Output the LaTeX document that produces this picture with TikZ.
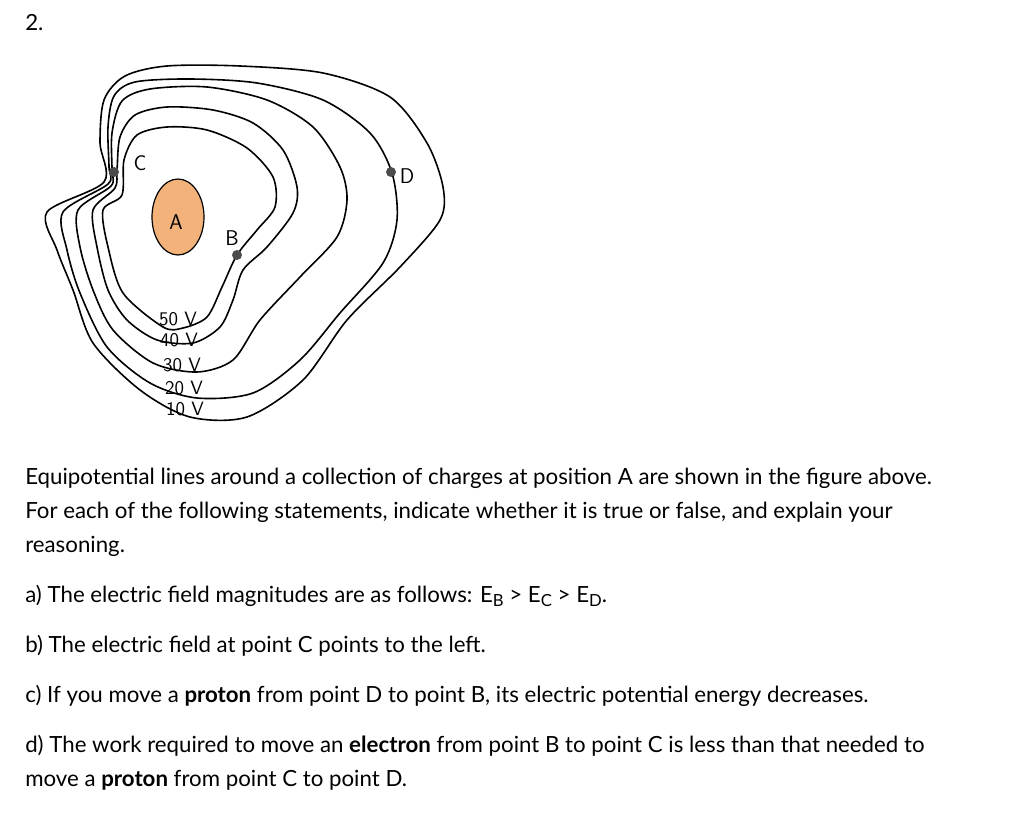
\documentclass[tikz,border=0pt]{standalone}
\usepackage{fontspec}
\setmainfont{Lato}
\begin{document}
\begin{tikzpicture}[x=0.75pt,y=-0.75pt,
  eq/.style={line width=1.2pt,line join=round},
  lbl/.style={font=\fontsize{14.5}{14}\selectfont\sffamily,inner sep=0pt},
  ltr/.style={font=\fontsize{16}{16}\selectfont\sffamily,inner sep=0pt},
  pt/.style={circle,fill=black!70,inner sep=0pt,minimum size=7.5pt},
  txt/.style={anchor=base west,inner sep=0pt,font=\fontsize{16.7}{19}\selectfont}]
\useasboundingbox (0,0) rectangle (1024,816);
\fill[white] (0,0) rectangle (1024,816);
\node[txt] (n2) at (25,31) {2.};
\draw[fill={rgb,255:red,242;green,178;blue,122},line width=0.9pt] (178,217) ellipse (26 and 38);
\node[ltr] (A) at (176,222) {A};
\draw[eq] plot[smooth cycle,tension=0.5] coordinates {(163,327)(123,293)(108,247)(103,210)(122,195)(124,160)(137,135)(167,127)(207,130)(247,148)(273,177)(275,207)(257,230)(237,255)(222,287)(207,317)(183,328)};
\draw[eq] plot[smooth cycle,tension=0.5] coordinates {(93,210)(97,247)(108,290)(127,320)(157,340)(193,343)(220,327)(233,300)(243,270)(267,247)(293,213)(297,187)(283,150)(253,123)(213,110)(167,107)(135,115)(120,137)(117,170)(115,188)};
\draw[eq] plot[smooth cycle,tension=0.5] coordinates {(78,210)(80,247)(93,290)(113,330)(153,363)(197,372)(233,360)(260,320)(300,277)(337,237)(347,200)(340,167)(313,127)(267,100)(207,87)(150,89)(122,101)(112,133)(112,170)(111,186)};
\draw[eq] plot[smooth cycle,tension=0.5] coordinates {(63,212)(67,250)(80,293)(107,347)(150,383)(197,398)(253,393)(300,360)(340,313)(383,263)(397,220)(392,173)(370,133)(323,100)(257,83)(190,79)(135,82)(114,96)(108,127)(109,167)(108,184)};
\draw[eq] plot[smooth cycle,tension=0.5] coordinates {(47,212)(57,250)(73,290)(93,343)(140,390)(190,417)(247,417)(303,380)(347,320)(400,267)(440,220)(443,187)(427,143)(390,97)(323,73)(240,66)(167,66)(125,76)(104,100)(100,143)(104,182)};
\node[pt] (C) at (114,172) {};
\node[pt] (D) at (391,172) {};
\node[pt] (B) at (237,255) {};
\node[ltr] (Cl) at (140,163) {C};
\node[ltr] (Dl) at (407,176) {D};
\node[ltr] (Bl) at (232,238) {B};
\node[lbl] (v50) at (178,319) {50 V};
\node[lbl] (v40) at (179,340) {40 V};
\node[lbl] (v30) at (182,365) {30 V};
\node[lbl] (v20) at (184,388) {20 V};
\node[lbl] (v10) at (185,409) {10 V};
\newcommand{\sbs}[1]{\raisebox{-3pt}{\fontsize{12.5}{12}\selectfont #1}}
\node[txt] (t1) at (25,484) {Equipotential lines around a collection of charges at position A are shown in the figure above.};
\node[txt] (t2) at (25,518) {For each of the following statements, indicate whether it is true or false, and explain your};
\node[txt] (t3) at (25,552) {reasoning.};
\node[txt] (ta) at (25,602) {a) The electric field magnitudes are as follows: E\sbs{B} > E\sbs{C} > E\sbs{D}.};
\node[txt] (tb) at (25,652) {b) The electric field at point C points to the left.};
\node[txt] (tc) at (25,702) {c) If you move a \textbf{proton} from point D to point B, its electric potential energy decreases.};
\node[txt] (td) at (25,752) {d) The work required to move an \textbf{electron} from point B to point C is less than that needed to};
\node[txt] (te) at (25,786) {move a \textbf{proton} from point C to point D.};
\end{tikzpicture}
\end{document}
